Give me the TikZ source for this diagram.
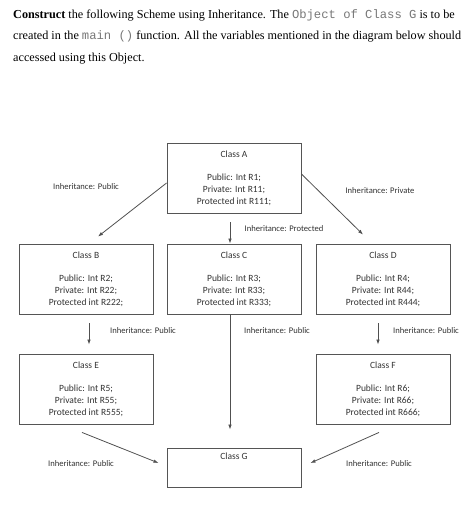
\documentclass[tikz,border=0pt]{standalone}
\usepackage{fontspec}
\setmainfont{Liberation Serif}
\setmonofont{Liberation Mono}
\newfontfamily\boxfont{Carlito}
\usetikzlibrary{arrows.meta,calc}

\definecolor{boxgray}{HTML}{555555}
\definecolor{linegray}{HTML}{505050}
\definecolor{textgray}{HTML}{333333}
\definecolor{monogray}{HTML}{777777}

\tikzset{
  classbox/.style={draw=boxgray, line width=0.9pt, minimum width=134pt,
    minimum height=70pt, align=center, inner sep=0pt, text=textgray,
    font=\boxfont\fontsize{9.5}{11.7}\selectfont},
  inherit/.style={text=textgray, font=\boxfont\fontsize{8.6}{10}\selectfont},
  link/.style={draw=linegray, line width=0.8pt, -{Latex[length=5pt,width=3.6pt]}},
}

\begin{document}
\begin{tikzpicture}[x=1pt,y=-1pt]
\useasboundingbox (0,0) rectangle (474,507);

% Task text above the scheme
\begin{scope}[every node/.style={anchor=base west, inner sep=0pt,
    font=\fontsize{12.2}{14}\selectfont}]
\node (intro1) at (13,18) {\textbf{Construct} the following Scheme using Inheritance. The \textcolor{monogray}{\texttt{Object of Class G}} is to be};
\node (intro2) at (13,39.5) {created in the \textcolor{monogray}{\texttt{main ()}} function. All the variables mentioned in the diagram below should};
\node (intro3) at (13,61) {accessed using this Object.};
\end{scope}

% Classes
\node[classbox] (A) at (234,178) {Class A\\[\baselineskip]Public: Int R1;\\Private: Int R11;\\Protected int R111;};
\node[classbox] (B) at (86,279) {Class B\\[\baselineskip]Public: Int R2;\\Private: Int R22;\\Protected int R222;};
\node[classbox] (C) at (234,279) {Class C\\[\baselineskip]Public: Int R3;\\Private: Int R33;\\Protected int R333;};
\node[classbox] (D) at (383,279) {Class D\\[\baselineskip]Public: Int R4;\\Private: Int R44;\\Protected int R444;};
\node[classbox] (E) at (86,389) {Class E\\[\baselineskip]Public: Int R5;\\Private: Int R55;\\Protected int R555;};
\node[classbox] (F) at (383,389) {Class F\\[\baselineskip]Public: Int R6;\\Private: Int R66;\\Protected int R666;};
\node[classbox,minimum height=39pt] (G) at (234,467.5) {Class G\\[\baselineskip]\mbox{}};

% Inheritance arrows
\draw[link] ($(A.west)+(0,5)$) -- ($(B.north)+(12,-7)$);
\draw[link] ($(A.east)+(0,-4)$) -- ($(D.north)+(-20,-9)$);
\draw[link] ($(A.south)+(-4,9)$) -- ($(C.north)+(-4,0)$);
\draw[link] ($(B.south)+(3,9)$) -- ($(E.north)+(3,-9)$);
\draw[link] ($(C.south)+(-4,0)$) -- ($(G.north)+(-4,-18)$);
\draw[link] ($(D.south)+(-5,9)$) -- ($(F.north)+(-5,-9)$);
\draw[link] ($(E.south)+(-4,8)$) -- ($(G.west)+(-8,-4.5)$);
\draw[link] ($(F.south)+(-4,8)$) -- ($(G.east)+(9,-4.5)$);

% Access labels
\node[inherit] (lAB) at (86,187) {Inheritance: Public};
\node[inherit] (lAD) at (380,191) {Inheritance: Private};
\node[inherit] (lAC) at (284,229) {Inheritance: Protected};
\node[inherit] (lBE) at (143,331) {Inheritance: Public};
\node[inherit] (lCG) at (277,331) {Inheritance: Public};
\node[inherit] (lDF) at (426,331) {Inheritance: Public};
\node[inherit] (lEG) at (81,464) {Inheritance: Public};
\node[inherit] (lFG) at (379,464) {Inheritance: Public};
\end{tikzpicture}
\end{document}
